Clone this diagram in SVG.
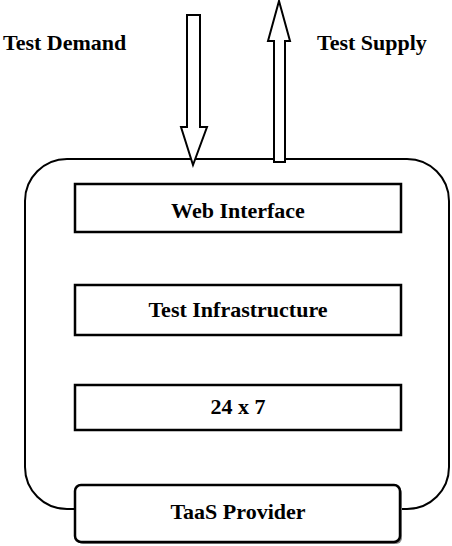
<svg xmlns="http://www.w3.org/2000/svg" width="452" height="546" viewBox="0 0 452 546">
<defs>
<style>
.t{font-family:"Liberation Serif","Times New Roman",serif;font-weight:bold;font-size:22px;fill:#000}
.box{fill:#fff;stroke:#000;stroke-width:2.5}
.ln{fill:#fff;stroke:#000;stroke-width:2}
</style>
</defs>
<rect width="452" height="546" fill="#fff"/>
<g id="container">
<path class="ln" d="M75,509 H67 A42,42 0 0 1 25,467 V201 A42,42 0 0 1 67,159 H407 A42,42 0 0 1 449,201 V467 A42,42 0 0 1 407,509 H400" fill="none"/>
</g>
<g id="connectors">
<polygon class="ln" points="187,15 200,15 200,127 207,127 193,165 181,127 187,127"/>
<polygon class="ln" points="274,162 285,162 285,41 290,41 279,1 268,41 274,41"/>
</g>
<g id="web-interface">
<rect class="box" x="75" y="184" width="326" height="48"/>
<text class="t" x="238" y="218" text-anchor="middle">Web Interface</text>
</g>
<g id="test-infrastructure">
<rect class="box" x="75" y="285" width="326" height="50"/>
<text class="t" x="238" y="317" text-anchor="middle">Test Infrastructure</text>
</g>
<g id="always-on">
<rect class="box" x="75" y="385" width="326" height="45"/>
<text class="t" x="238" y="414" text-anchor="middle">24 x 7</text>
</g>
<g id="taas-provider">
<rect x="77" y="487" width="325" height="57" rx="6" fill="#888"/>
<rect class="box" x="75" y="485" width="325" height="57" rx="6"/>
<text class="t" x="238" y="519" text-anchor="middle">TaaS Provider</text>
</g>
<g id="labels">
<text class="t" x="3" y="50">Test Demand</text>
<text class="t" x="317" y="50">Test Supply</text>
</g>
</svg>
